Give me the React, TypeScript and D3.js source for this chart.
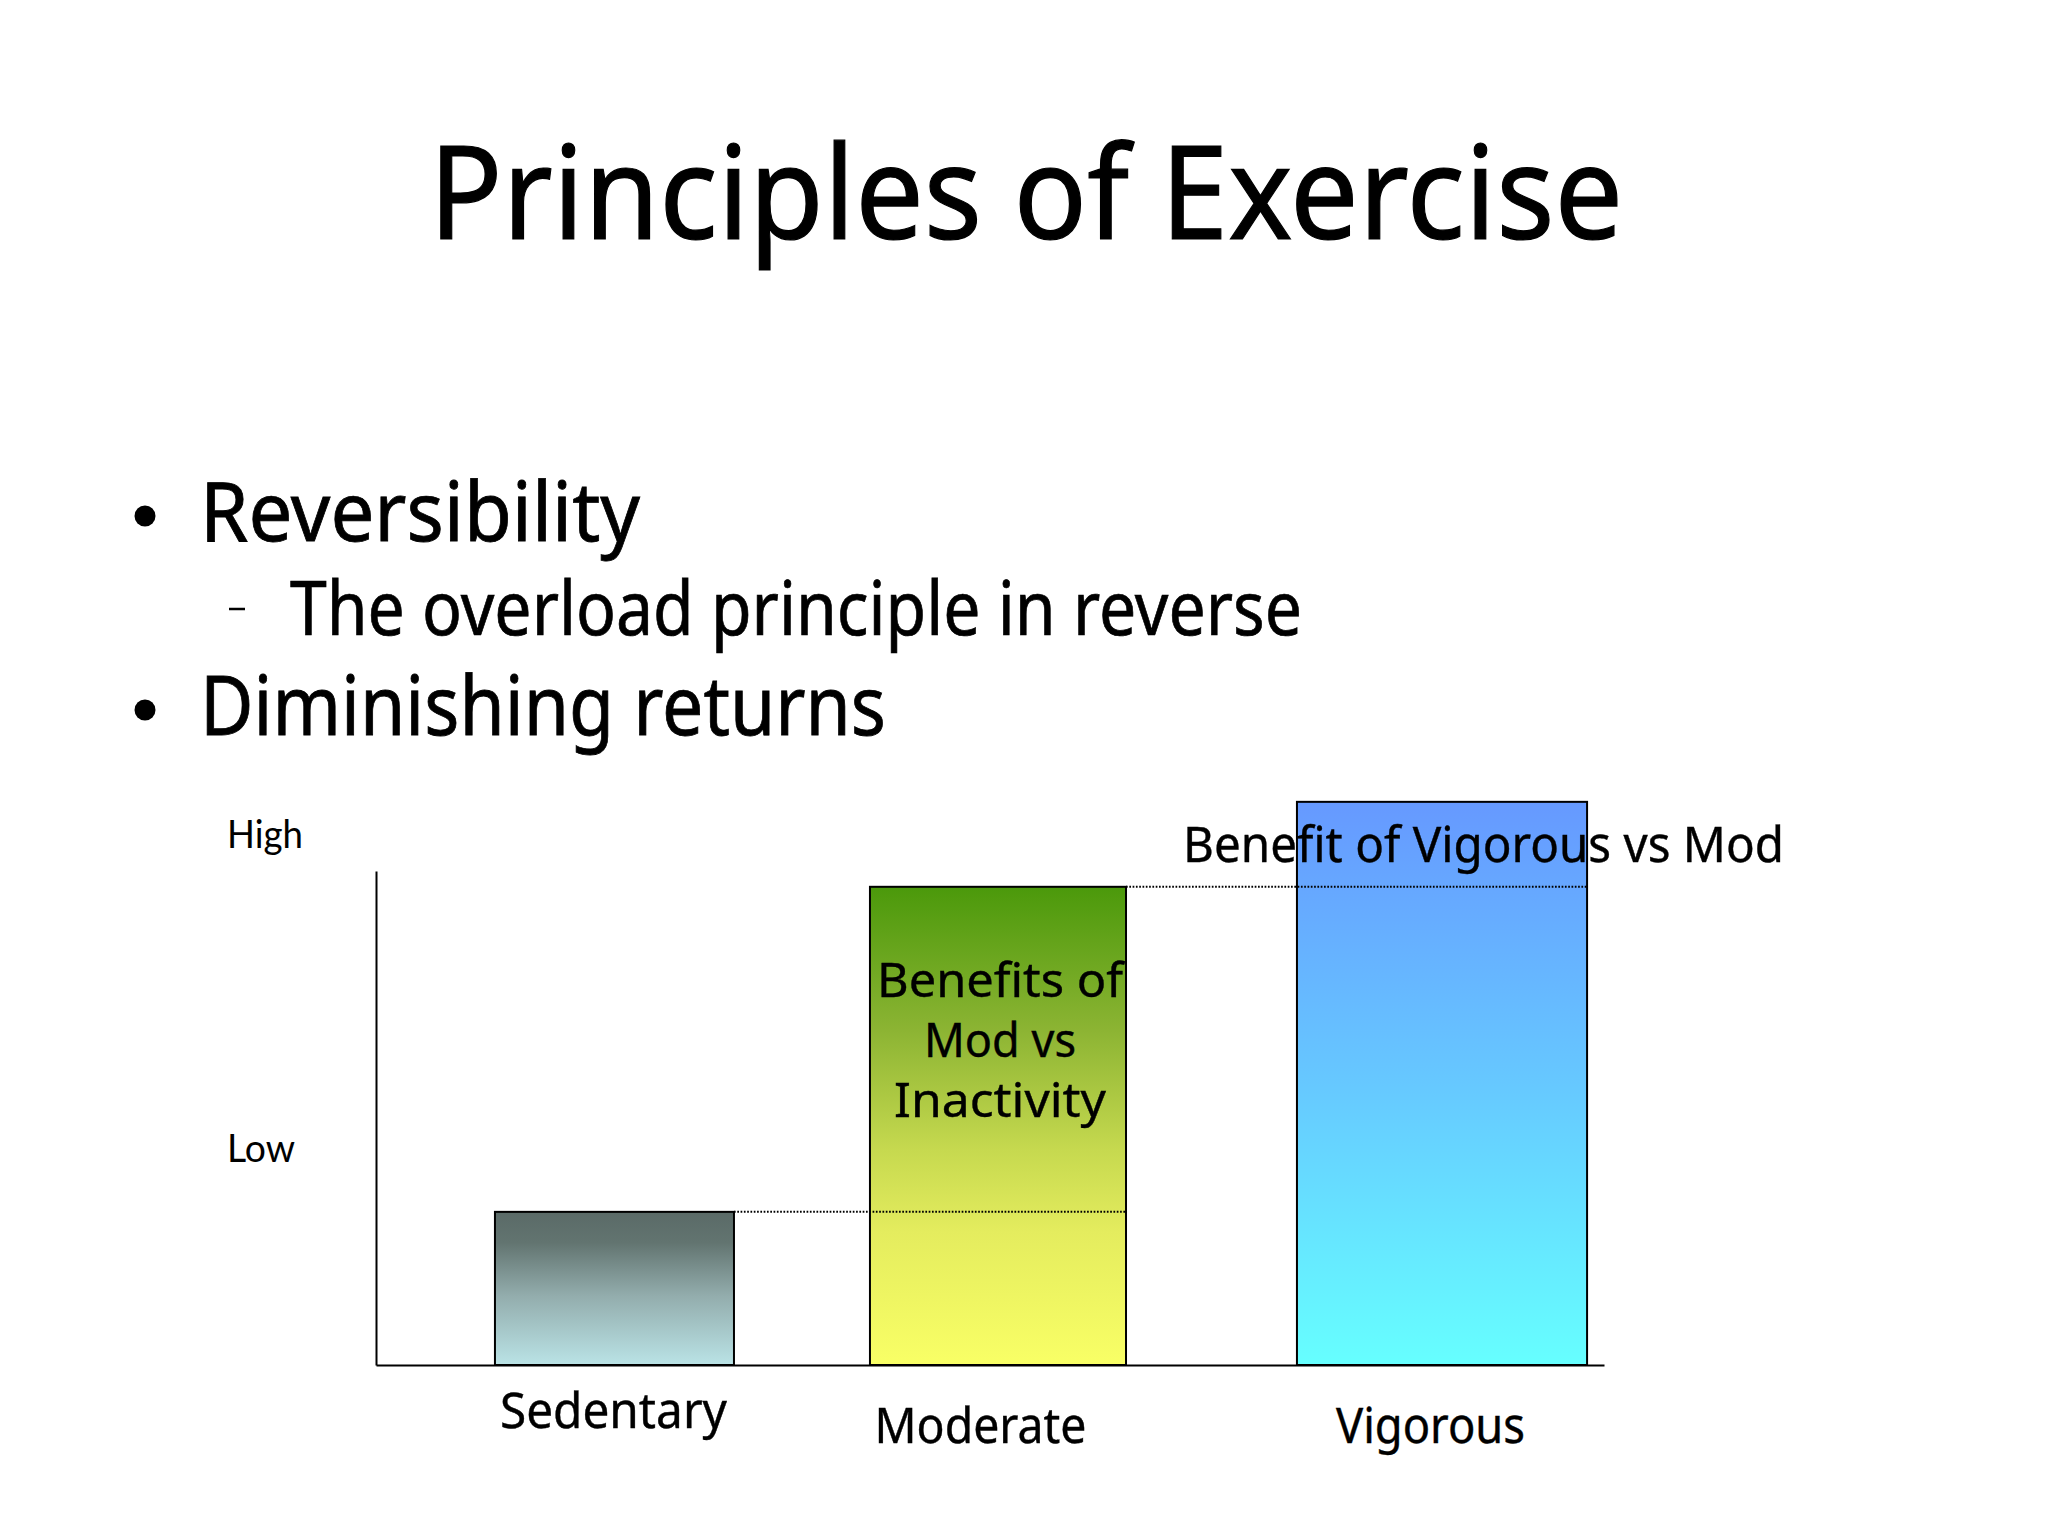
import { useEffect, useRef } from "react";
import * as d3 from "d3";

// slide text
const titleText = "Principles of Exercise";
const bulletItems = ["Reversibility", "Diminishing returns"];
const subItems = ["The overload principle in reverse"];

// chart data
const categories = ["Sedentary", "Moderate", "Vigorous"];
const benefitValues = [31, 96.8, 114];
const levelLabels = ["Low", "High"];
const levelValues = [41, 104.7];
const moderateNote = ["Benefits of", "Mod vs", "Inactivity"];
const vigorousNote = "Benefit of Vigorous vs Mod";

const W = 2048;
const H = 1536;
const FONT = "'Noto Sans', 'Open Sans', sans-serif";

// per-bar tweaks so the hand-drawn slide bars line up
const barShift = [10.5, -20, 10];
const barScale = [0.912, 0.977, 1.107];
const labelShift = [-1, -17.5, -11.5];
const labelBaseline = [1428, 1443, 1443];

const gradients = [
  [
    [0, "#5a6a67"],
    [0.2, "#627470"],
    [0.55, "#93adad"],
    [1, "#bae3e6"],
  ],
  [
    [0, "#4b990b"],
    [0.3, "#8cb433"],
    [0.55, "#c6d94f"],
    [0.72, "#e4ec5e"],
    [1, "#f9ff66"],
  ],
  [
    [0, "#6699ff"],
    [0.5, "#66c8ff"],
    [1, "#66ffff"],
  ],
] as [number, string][][];

export default function App() {
  const svgRef = useRef<SVGSVGElement>(null);

  useEffect(() => {
    if (!svgRef.current) return;
    const svg = d3.select(svgRef.current);
    svg.selectAll("*").remove();

    svg.append("rect").attr("width", W).attr("height", H).attr("fill", "#fff");

    // title + bullets
    svg
      .append("text")
      .attr("x", 1026)
      .attr("y", 239)
      .attr("text-anchor", "middle")
      .attr("font-size", 130)
      .attr("stroke", "#000")
      .attr("stroke-width", 1.2)
      .attr("textLength", 1194)
      .attr("lengthAdjust", "spacingAndGlyphs")
      .text(titleText);

    const bulletY = [541, 735];
    const bulletW = [440, 686];
    bulletItems.forEach((t, i) => {
      svg
        .append("circle")
        .attr("cx", 145)
        .attr("cy", bulletY[i] - 25)
        .attr("r", 10.5)
        .attr("fill", "#000");
      svg
        .append("text")
        .attr("x", 200)
        .attr("y", bulletY[i])
        .attr("font-size", 82)
        .attr("stroke", "#000")
        .attr("stroke-width", 0.8)
        .attr("textLength", bulletW[i])
        .attr("lengthAdjust", "spacingAndGlyphs")
        .text(t);
    });

    svg
      .append("line")
      .attr("x1", 229)
      .attr("x2", 245)
      .attr("y1", 609)
      .attr("y2", 609)
      .attr("stroke", "#000")
      .attr("stroke-width", 2.5);
    svg
      .append("text")
      .attr("x", 290)
      .attr("y", 635)
      .attr("font-size", 75)
      .attr("stroke", "#000")
      .attr("stroke-width", 0.7)
      .attr("textLength", 1012)
      .attr("lengthAdjust", "spacingAndGlyphs")
      .text(subItems[0]);

    // chart
    const x = d3
      .scaleBand<string>()
      .domain(categories)
      .range([376, 1604])
      .paddingInner(0.367)
      .paddingOuter(0.1665)
      .align(0.703);

    const y = d3.scaleLinear().domain([0, 100]).range([1365, 871]);

    const bw = x.bandwidth();
    const barX = (i: number) =>
      (x(categories[i]) as number) + bw / 2 + barShift[i] - (bw * barScale[i]) / 2;
    const barW = (i: number) => bw * barScale[i];

    const defs = svg.append("defs");
    gradients.forEach((stops, i) => {
      const g = defs
        .append("linearGradient")
        .attr("id", `bar-grad-${i}`)
        .attr("x1", 0)
        .attr("y1", 0)
        .attr("x2", 0)
        .attr("y2", 1);
      stops.forEach(([o, c]) => {
        g.append("stop").attr("offset", o).attr("stop-color", c);
      });
    });

    svg
      .append("g")
      .selectAll("rect")
      .data(benefitValues)
      .join("rect")
      .attr("x", (_, i) => barX(i))
      .attr("y", (d) => y(d))
      .attr("width", (_, i) => barW(i))
      .attr("height", (d) => y(0) - y(d))
      .attr("fill", (_, i) => `url(#bar-grad-${i})`)
      .attr("stroke", "#000")
      .attr("stroke-width", 2);

    // dotted level lines from one bar to the next
    svg
      .append("g")
      .selectAll("line")
      .data(benefitValues.slice(0, -1))
      .join("line")
      .attr("x1", (_, i) => barX(i) + barW(i))
      .attr("x2", (_, i) => barX(i + 1) + barW(i + 1))
      .attr("y1", (d) => y(d))
      .attr("y2", (d) => y(d))
      .attr("stroke", "#000")
      .attr("stroke-width", 2)
      .attr("stroke-dasharray", "1.7 1.6");

    // axes
    const yAxis = svg
      .append("g")
      .attr("transform", "translate(376,0)")
      .call(d3.axisLeft(y).tickValues([]).tickSizeOuter(0));
    const xAxis = svg
      .append("g")
      .attr("transform", `translate(0,${y(0)})`)
      .call(d3.axisBottom(d3.scaleLinear().range([376, 1604])).tickValues([]).tickSizeOuter(0));
    [yAxis, xAxis].forEach((a) =>
      a.select(".domain").attr("stroke", "#000").attr("stroke-width", 2)
    );

    const levelW = [68, 76];
    levelLabels.forEach((t, i) => {
      svg
        .append("text")
        .attr("x", 227)
        .attr("y", y(levelValues[i]))
        .attr("font-family", "Lato, sans-serif")
        .attr("font-size", 38)
        .attr("textLength", levelW[i])
        .attr("lengthAdjust", "spacingAndGlyphs")
        .text(t);
    });

    const catW = [227, 212, 189];
    categories.forEach((c, i) => {
      svg
        .append("text")
        .attr("x", (x(c) as number) + bw / 2 + barShift[i] + labelShift[i])
        .attr("y", labelBaseline[i])
        .attr("text-anchor", "middle")
        .attr("font-size", 50)
        .attr("stroke", "#000")
        .attr("stroke-width", 0.4)
        .attr("textLength", catW[i])
        .attr("lengthAdjust", "spacingAndGlyphs")
        .text(c);
    });

    // notes
    const noteW = [246, 152, 212];
    const modCx = barX(1) + barW(1) / 2 + 2;
    moderateNote.forEach((t, i) => {
      svg
        .append("text")
        .attr("x", modCx)
        .attr("y", 997 + i * 60)
        .attr("text-anchor", "middle")
        .attr("font-size", 48)
        .attr("stroke", "#000")
        .attr("stroke-width", 0.4)
        .attr("textLength", noteW[i])
        .attr("lengthAdjust", "spacingAndGlyphs")
        .text(t);
    });

    svg
      .append("text")
      .attr("x", 1183)
      .attr("y", 862)
      .attr("font-size", 50)
      .attr("stroke", "#000")
      .attr("stroke-width", 0.4)
      .attr("textLength", 601)
      .attr("lengthAdjust", "spacingAndGlyphs")
      .text(vigorousNote);
  }, []);

  return (
    <svg
      ref={svgRef}
      width={W}
      height={H}
      style={{ position: "absolute", left: 0, top: 0, fontFamily: FONT }}
    />
  );
}
